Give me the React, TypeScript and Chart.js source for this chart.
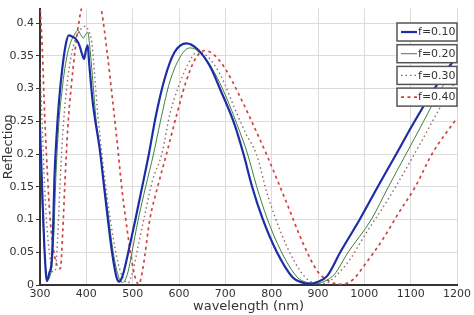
import React, { useEffect, useRef } from 'react';
import { Chart, registerables } from 'chart.js';

Chart.register(...registerables);

// f = 0.10
const wlF10 = [300,305,310,315,320,325,328,331,336,341,348,355,362,370,378,385,391,395,399,403,406,414,429,440,455,462,466,470,474,480,489,505,520,535,550,569,590,616,640,666,690,720,740,757,780,810,845,865,880,900,920,948,990,1029,1069,1107,1140,1170,1200];
const rF10 = [0.24,0.14,0.05,0.006,0.018,0.035,0.08,0.16,0.23,0.28,0.33,0.365,0.381,0.379,0.375,0.366,0.352,0.345,0.358,0.366,0.34,0.278,0.207,0.14,0.052,0.022,0.01,0.005,0.007,0.018,0.045,0.097,0.148,0.2,0.258,0.315,0.355,0.369,0.36,0.335,0.297,0.245,0.198,0.152,0.102,0.052,0.012,0.004,0.002,0.005,0.014,0.05,0.1,0.15,0.2,0.248,0.287,0.32,0.35];

// f = 0.20
const wlF20 = [300,305,310,316,321,326,330,334,340,348,357,366,375,382,388,394,398,403,408,413,420,432,445,458,468,474,478,483,490,498,512,528,545,560,578,600,623,650,676,700,728,748,767,790,820,855,875,895,915,935,965,1015,1052,1090,1128,1151,1175,1200];
const rF20 = [0.2,0.12,0.05,0.008,0.012,0.03,0.08,0.16,0.24,0.3,0.345,0.37,0.383,0.389,0.382,0.377,0.382,0.386,0.36,0.32,0.26,0.19,0.12,0.05,0.016,0.006,0.004,0.007,0.02,0.048,0.1,0.15,0.2,0.25,0.305,0.345,0.362,0.352,0.325,0.29,0.24,0.2,0.152,0.102,0.052,0.012,0.004,0.002,0.006,0.016,0.05,0.1,0.15,0.2,0.25,0.281,0.31,0.335];

// f = 0.30
const wlF30 = [300,305,310,316,322,328,333,338,343,349,356,366,378,390,398,405,412,418,423,432,442,455,468,480,490,500,512,527,543,563,580,600,620,640,660,690,720,745,767,790,820,850,875,900,918,940,970,1000,1047,1080,1120,1166,1200];
const rF30 = [0.33,0.24,0.15,0.08,0.04,0.02,0.022,0.07,0.15,0.23,0.29,0.345,0.378,0.392,0.395,0.388,0.37,0.32,0.274,0.21,0.15,0.085,0.035,0.01,0.003,0.02,0.06,0.11,0.16,0.2,0.26,0.305,0.338,0.356,0.35,0.32,0.27,0.23,0.2,0.14,0.08,0.035,0.01,0.002,0.003,0.015,0.04,0.075,0.126,0.165,0.215,0.274,0.315];

// f = 0.40
const wlF40 = [300,305,310,316,322,330,338,344,349,354,360,367,376,386,396,408,418,426,433,445,457,467,477,488,498,506,513,522,537,554,573,595,615,635,655,675,700,730,760,791,832,870,900,930,952,975,1000,1040,1075,1110,1146,1200];
const rF40 = [0.43,0.36,0.26,0.17,0.1,0.05,0.028,0.025,0.08,0.16,0.24,0.3,0.36,0.41,0.44,0.458,0.455,0.44,0.418,0.355,0.28,0.215,0.145,0.085,0.037,0.01,0.001,0.025,0.1,0.15,0.2,0.26,0.31,0.345,0.358,0.352,0.33,0.29,0.245,0.196,0.126,0.06,0.02,0.004,0.001,0.008,0.03,0.07,0.111,0.15,0.2,0.255];

const seriesLabels = ['f=0.10', 'f=0.20', 'f=0.30', 'f=0.40'];
const xLabel = 'wavelength (nm)';
const yLabel = 'Reflection';

const legendBoxes = {
  id: 'legendBoxes',
  afterDraw(chart: any) {
    const ctx = chart.ctx;
    const area = chart.chartArea;
    const top0 = chart.scales.y.getPixelForValue(0.4);
    const w = 60, h = 18, gap = 21.7;
    const x0 = area.right - w;
    chart.data.datasets.forEach((ds: any, i: number) => {
      const y0 = top0 + i * gap;
      ctx.save();
      ctx.fillStyle = '#ffffff';
      ctx.fillRect(x0, y0, w, h);
      ctx.strokeStyle = '#555';
      ctx.lineWidth = 1.5;
      ctx.strokeRect(x0, y0, w, h);
      ctx.beginPath();
      ctx.strokeStyle = ds.borderColor;
      ctx.lineWidth = ds.borderWidth;
      ctx.setLineDash(ds.borderDash || []);
      ctx.moveTo(x0 + 4, y0 + h / 2);
      ctx.lineTo(x0 + 20, y0 + h / 2);
      ctx.stroke();
      ctx.setLineDash([]);
      ctx.fillStyle = '#333';
      ctx.font = '11px "DejaVu Sans"';
      ctx.textBaseline = 'middle';
      ctx.textAlign = 'left';
      ctx.fillText(ds.label, x0 + 21, y0 + h / 2 + 0.5);
      ctx.restore();
    });
  },
};

export default function App() {
  const ref = useRef<HTMLCanvasElement>(null);
  useEffect(() => {
    document.body.style.margin = '0';
    const mk = (wl: number[], r: number[]) => wl.map((x, i) => ({ x, y: r[i] }));
    Chart.defaults.font.family = '"DejaVu Sans", sans-serif';
    const chart = new Chart(ref.current as HTMLCanvasElement, {
      type: 'line',
      data: {
        datasets: [
          { label: seriesLabels[0], data: mk(wlF10, rF10), borderColor: '#1c2ea6', borderWidth: 2.2 },
          { label: seriesLabels[1], data: mk(wlF20, rF20), borderColor: '#3f7f3f', borderWidth: 1 },
          { label: seriesLabels[2], data: mk(wlF30, rF30), borderColor: '#8a6c6c', borderWidth: 1.4, borderDash: [1.5, 3] },
          { label: seriesLabels[3], data: mk(wlF40, rF40), borderColor: '#cf4242', borderWidth: 1.7, borderDash: [3, 3.5] },
        ],
      },
      options: {
        animation: false,
        responsive: false,
        maintainAspectRatio: false,
        layout: { padding: { left: 0, right: 16, top: 0, bottom: 0 } },
        elements: { point: { radius: 0 }, line: { cubicInterpolationMode: 'monotone', fill: false } },
        plugins: { legend: { display: false }, tooltip: { enabled: false } },
        scales: {
          x: {
            type: 'linear',
            min: 300,
            max: 1200,
            ticks: { stepSize: 100, color: '#333', font: { size: 11 }, maxRotation: 0, padding: 3, callback: (v: any) => String(v) },
            grid: { color: '#dcdcdc', drawTicks: false },
            border: { color: '#333', width: 2 },
            title: { display: true, text: xLabel, color: '#333', font: { size: 13 }, padding: { top: 0, bottom: 1 } },
            afterFit: (s: any) => { s.height = 30; },
          },
          y: {
            type: 'linear',
            min: 0,
            max: 0.422,
            ticks: {
              stepSize: 0.05,
              color: '#333',
              font: { size: 11 },
              padding: 2,
              callback: (v: any) => String(parseFloat(Number(v).toFixed(2))),
            },
            afterBuildTicks: (s: any) => { s.ticks = s.ticks.filter((t: any) => t.value <= 0.4001); },
            grid: { color: '#dcdcdc', tickColor: '#333', tickLength: 4 },
            border: { color: '#333', width: 2 },
            title: { display: true, text: yLabel, color: '#333', font: { size: 13 }, padding: 1 },
            afterFit: (s: any) => { s.width = 40; },
          },
        },
      },
      plugins: [legendBoxes],
    } as any);
    return () => chart.destroy();
  }, []);
  return (
    <div style={{ position: 'absolute', left: 0, top: 0, width: 474, height: 315 }}>
      <canvas ref={ref} width={474} height={315} style={{ display: 'block' }} />
    </div>
  );
}
